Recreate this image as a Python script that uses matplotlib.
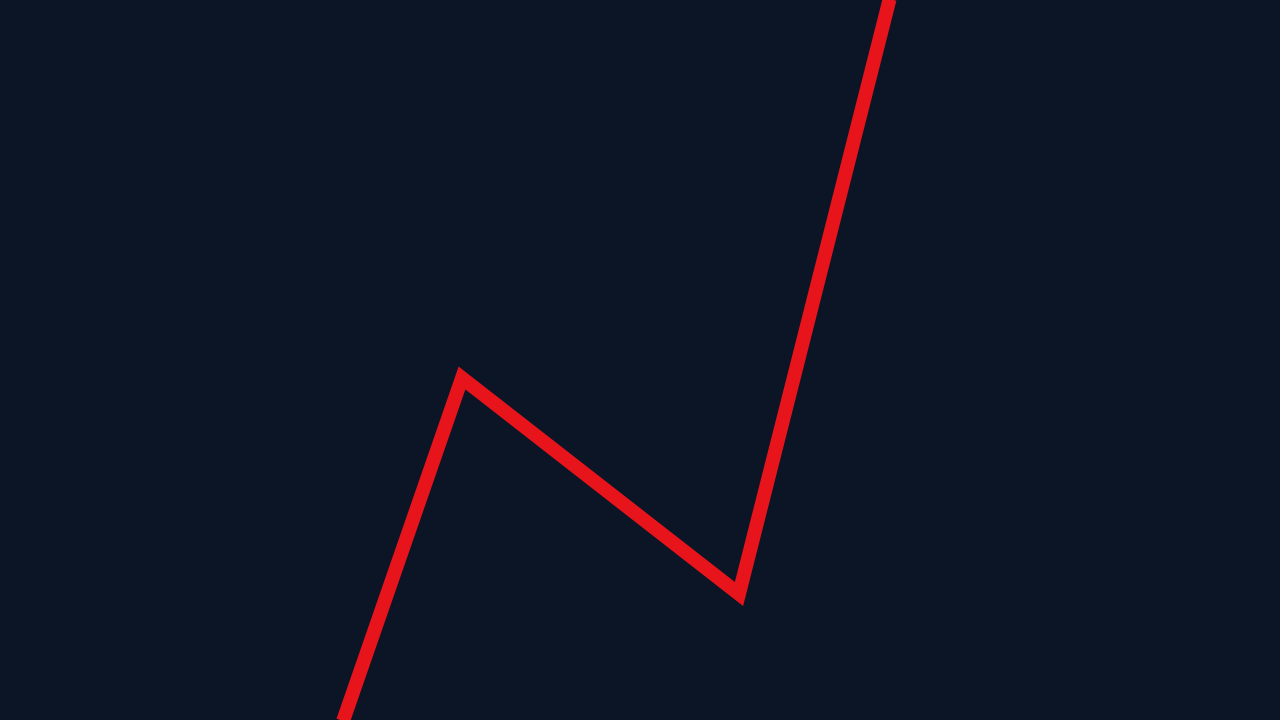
import matplotlib
matplotlib.use("Agg")
import matplotlib.pyplot as plt

# zigzag price path (x position, level)
x_vals = [333, 462, 739, 897]
y_vals = [-30, 342, 126, 750]

bg = "#0b1525"
line_col = "#e8141b"

fig = plt.figure(figsize=(12.8, 7.2), dpi=100, facecolor=bg)
ax = fig.add_axes([0, 0, 1, 1])
ax.set_facecolor(bg)
ax.plot(x_vals, y_vals, color=line_col, linewidth=10,
        solid_joinstyle="miter", solid_capstyle="butt")
ax.set_xlim(0, 1280)
ax.set_ylim(0, 720)
ax.axis("off")

fig.savefig("out.png", dpi=100, facecolor=bg)
